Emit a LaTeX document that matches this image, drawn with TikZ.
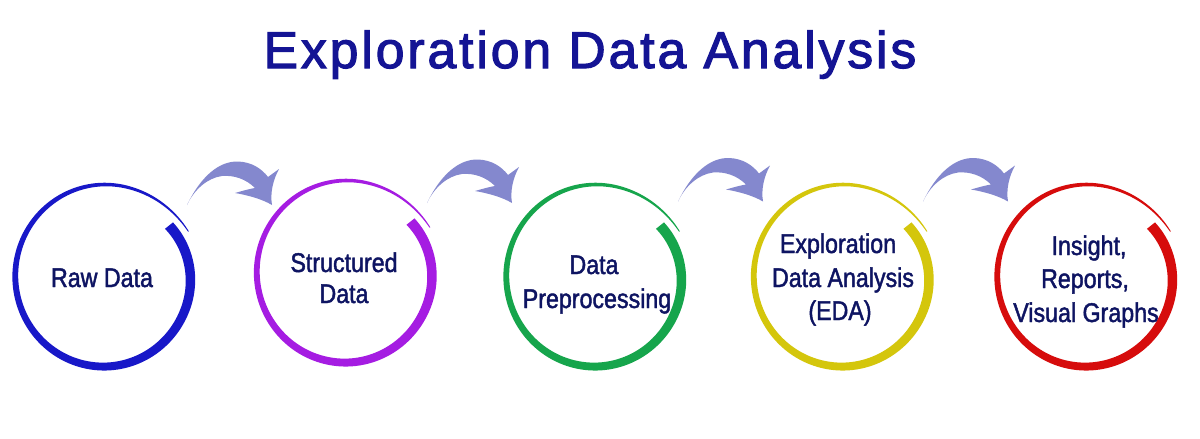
\documentclass[tikz,border=0pt]{standalone}
\usepackage{fontspec}
\setmainfont{Liberation Sans}
\newfontfamily\titlefont[LetterSpace=5.6,FakeBold=2.2]{Liberation Sans}
\newfontfamily\lblfont[FakeStretch=0.86,FakeBold=1.6]{Liberation Sans}
\definecolor{titleblue}{RGB}{20,20,148}
\definecolor{textnavy}{RGB}{14,20,98}
\definecolor{ringA}{RGB}{24,24,200}
\definecolor{ringB}{RGB}{165,28,226}
\definecolor{ringC}{RGB}{22,165,76}
\definecolor{ringD}{RGB}{212,198,12}
\definecolor{ringE}{RGB}{214,12,12}
\definecolor{arrowcol}{RGB}{132,136,206}
\tikzset{
  declare function={
    bt(\q)=(\q-27.9)/370.1;
    bw(\q)=0.8+9.6*bt(\q)^0.7;
    ba(\q)=max(0,1-(\q-28)/50);
    bb(\q)=max(0,(\q-340)/58);
    bR(\q)=93.5-6*bt(\q)+3.5*ba(\q)*ba(\q)-4*bb(\q)*bb(\q);
    bro(\q)=bR(\q)+bw(\q)/2;
    bri(\q)=bR(\q)-bw(\q)/2;
  },
  lbl/.style={font=\lblfont\fontsize{27}{33}\selectfont, text=textnavy, anchor=base, inner sep=0pt},
  ttl/.style={font=\titlefont\fontsize{51.7}{60}\selectfont, text=titleblue, anchor=base, inner sep=0pt},
  flowarrow/.style={fill=arrowcol, draw=none}
}
\newcommand\brushring[3]{%
  \fill[#3] plot[domain=28:398,samples=180] ({#1+0.98*bro(\x)*cos(\x)},{#2-bro(\x)*sin(\x)})
    -- plot[domain=398:28,samples=180] ({#1+0.98*bri(\x)*cos(\x)},{#2-bri(\x)*sin(\x)}) -- cycle;}
\newcommand\curvedarrow[3]{%
  \begin{scope}[shift={(#1,#2)}]
  \path[flowarrow] (187,205) .. controls (200,178) and (218,161) .. (238,161.5)
    .. controls (252,162) and (262,169) .. (268,177) -- (279,169)
    .. controls (273,180) and (270,193) .. (272,205)
    .. controls (262,199) and (247,195) .. (235,193)
    .. controls (242,191) and (249,189) .. (255,188)
    .. controls (246,179) and (234,175) .. (222,176)
    .. controls (207,178) and (194,190) .. (187,205) -- cycle;
  \coordinate (#3) at (230,180);
  \end{scope}}
\begin{document}
\begin{tikzpicture}[x=1pt,y=-1pt]
\useasboundingbox[fill=white] (0,0) rectangle (1200,439);
% title
\node[ttl] (title) at (590,68) {Exploration Data Analysis};
% ring centres
\coordinate (r1) at (104.5,277);
\coordinate (r2) at (346,273);
\coordinate (r3) at (595.5,277);
\coordinate (r4) at (843,277);
\coordinate (r5) at (1086.5,277);
% rings
\brushring{104.5}{277}{ringA}
\brushring{346}{273}{ringB}
\brushring{595.5}{277}{ringC}
\brushring{843}{277}{ringD}
\brushring{1086.5}{277}{ringE}
% arrows
\curvedarrow{0}{0}{a1}
\curvedarrow{240}{-2}{a2}
\curvedarrow{491}{-3.5}{a3}
\curvedarrow{736}{-3.5}{a4}
% labels
\node[lbl] (raw) at (102,287) {Raw Data};
\node[lbl] (st1) at (344,272) {Structured};
\node[lbl] (st2) at (344,303) {Data};
\node[lbl] (dp1) at (594,274) {Data};
\node[lbl] (dp2) at (597,308) {Preprocessing};
\node[lbl] (eda1) at (838,253) {Exploration};
\node[lbl] (eda2) at (843,287) {Data Analysis};
\node[lbl] (eda3) at (840,320) {(EDA)};
\node[lbl] (ins1) at (1089,255) {Insight,};
\node[lbl] (ins2) at (1085,288) {Reports,};
\node[lbl] (ins3) at (1086,322) {Visual Graphs};
\end{tikzpicture}
\end{document}
